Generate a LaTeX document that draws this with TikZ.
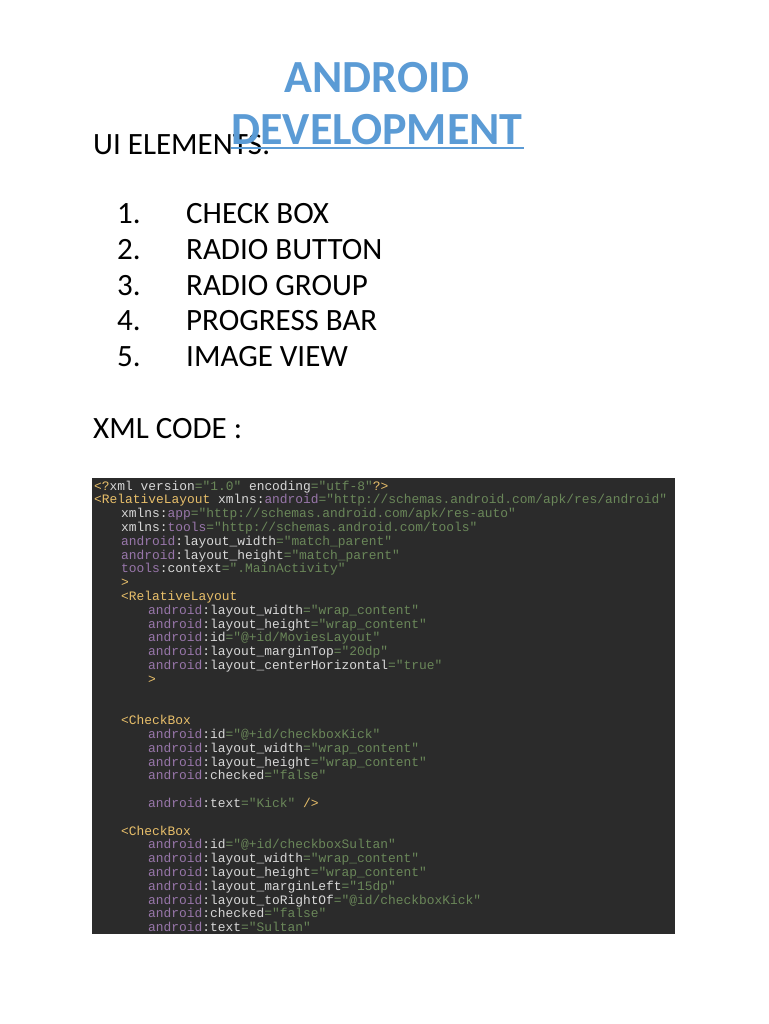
\documentclass[tikz,border=0pt]{standalone}
\usepackage{fontspec}
\setmainfont{Carlito}
\newfontfamily\codefont{Liberation Mono}
\definecolor{bg}{HTML}{2B2B2B}
\definecolor{ctag}{HTML}{E8BF6A}
\definecolor{cattr}{HTML}{D8D8D8}
\definecolor{cns}{HTML}{9876AA}
\definecolor{cstr}{HTML}{6A8759}
\definecolor{ttl}{HTML}{5B9BD5}
\newcommand{\Tg}[1]{\textcolor{ctag}{#1}}
\newcommand{\At}[1]{\textcolor{cattr}{#1}}
\newcommand{\Ns}[1]{\textcolor{cns}{#1}}
\newcommand{\St}[1]{\textcolor{cstr}{#1}}
\newcommand{\Prop}[3]{\Ns{#1}\At{:#2}\St{="#3"}}
\begin{document}
\begin{tikzpicture}[x=1pt,y=-1pt,
  body/.style={anchor=base west,inner sep=0,font=\fontsize{31}{34}\selectfont},
  ttlst/.style={inner sep=0,text=ttl,font=\bfseries\fontsize{46}{50}\selectfont},
  code/.style={anchor=base west,inner sep=0,font=\codefont\fontsize{12.9}{14}\selectfont}]
\useasboundingbox (0,0) rectangle (768,1024);
\fill[white] (0,0) rectangle (768,1024);
\node[ttlst] (t1) at (377,78) {ANDROID};
\node[body] (ui) at (93,155) {UI ELEMENTS:};
\node[ttlst] (t2) at (377,130) {DEVELOPMENT};
\draw[ttl,line width=1.5] (231,148) -- (524,148);
\foreach \n/\t/\y in {1/CHECK BOX/224,2/RADIO BUTTON/259,3/RADIO GROUP/295,4/PROGRESS BAR/330,5/IMAGE VIEW/366}{
  \node[body] (n\n) at (117,\y) {\n.};
  \node[body] (l\n) at (186,\y) {\t};
}
\node[body] (xml) at (93,438) {XML CODE :};
\fill[bg] (92,478) rectangle (675,934);
\def\ln#1#2#3{\node[code] at (94+27*#2,490+13.8*#1) {#3};}
\ln{0}{0}{\Tg{<?}\At{xml version}\St{="1.0"}\ \At{encoding}\St{="utf-8"}\Tg{?>}}
\ln{1}{0}{\Tg{<RelativeLayout}\ \At{xmlns:}\Ns{android}\St{="http://schemas.android.com/apk/res/android"}}
\ln{2}{1}{\At{xmlns:}\Ns{app}\St{="http://schemas.android.com/apk/res-auto"}}
\ln{3}{1}{\At{xmlns:}\Ns{tools}\St{="http://schemas.android.com/tools"}}
\ln{4}{1}{\Prop{android}{layout\_width}{match\_parent}}
\ln{5}{1}{\Prop{android}{layout\_height}{match\_parent}}
\ln{6}{1}{\Prop{tools}{context}{.MainActivity}}
\ln{7}{1}{\Tg{>}}
\ln{8}{1}{\Tg{<RelativeLayout}}
\ln{9}{2}{\Prop{android}{layout\_width}{wrap\_content}}
\ln{10}{2}{\Prop{android}{layout\_height}{wrap\_content}}
\ln{11}{2}{\Prop{android}{id}{@+id/MoviesLayout}}
\ln{12}{2}{\Prop{android}{layout\_marginTop}{20dp}}
\ln{13}{2}{\Prop{android}{layout\_centerHorizontal}{true}}
\ln{14}{2}{\Tg{>}}
\ln{17}{1}{\Tg{<CheckBox}}
\ln{18}{2}{\Prop{android}{id}{@+id/checkboxKick}}
\ln{19}{2}{\Prop{android}{layout\_width}{wrap\_content}}
\ln{20}{2}{\Prop{android}{layout\_height}{wrap\_content}}
\ln{21}{2}{\Prop{android}{checked}{false}}
\ln{23}{2}{\Prop{android}{text}{Kick}\ \Tg{/>}}
\ln{25}{1}{\Tg{<CheckBox}}
\ln{26}{2}{\Prop{android}{id}{@+id/checkboxSultan}}
\ln{27}{2}{\Prop{android}{layout\_width}{wrap\_content}}
\ln{28}{2}{\Prop{android}{layout\_height}{wrap\_content}}
\ln{29}{2}{\Prop{android}{layout\_marginLeft}{15dp}}
\ln{30}{2}{\Prop{android}{layout\_toRightOf}{@id/checkboxKick}}
\ln{31}{2}{\Prop{android}{checked}{false}}
\ln{32}{2}{\Prop{android}{text}{Sultan}}
\end{tikzpicture}
\end{document}
